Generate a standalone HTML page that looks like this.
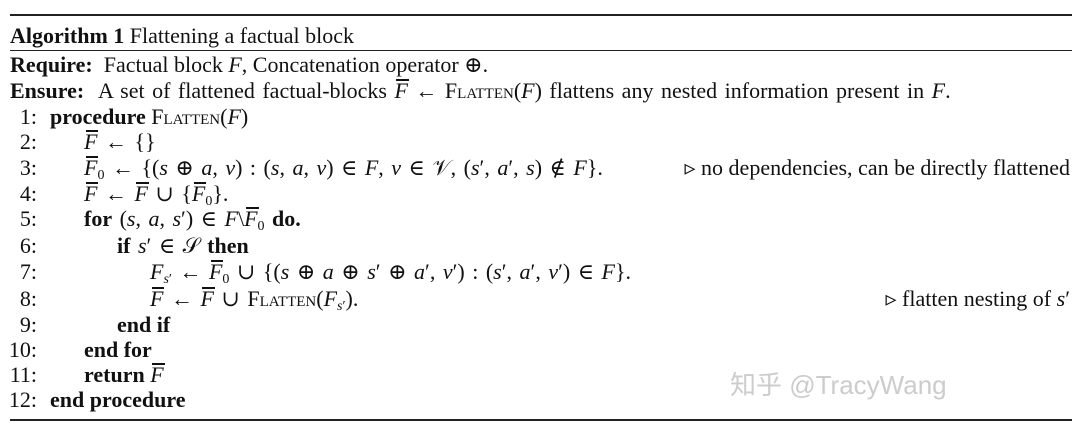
<!DOCTYPE html>
<html><head><meta charset="utf-8"><style>
body{margin:0;width:1080px;height:432px;background:#fff;position:relative;overflow:hidden;font-family:"Liberation Serif","DejaVu Serif",serif;font-size:22px;color:#111}
.r{position:absolute;left:10px;width:1062px;background:#222}
.l{position:absolute;line-height:22px;white-space:nowrap}
.n{position:absolute;line-height:22px;width:37px;text-align:right;left:0}
.c{position:absolute;right:10px;line-height:22px;white-space:nowrap}
i{font-style:italic}
.o{position:relative}
.o::before{content:"";position:absolute;left:2px;right:-1px;top:1px;height:1.5px;background:#111}
.sc{font-variant:small-caps}
.m{word-spacing:2px}
sub{font-size:14px;vertical-align:-4px;line-height:0}
</style></head><body>
<div class="r" style="top:14px;height:2px"></div>
<div class="r" style="top:50px;height:1px"></div>
<div class="r" style="top:419px;height:2px"></div>

<div class="l" style="left:10px;top:25px"><b>Algorithm 1</b> Flattening a factual block</div>
<div class="l" style="left:10px;top:54px"><b>Require:</b>&nbsp; Factual block <i>F</i>, Concatenation operator ⊕.</div>
<div class="l m" style="left:10px;top:80px"><b>Ensure:</b>&nbsp; A set of flattened factual-blocks <i class="o">F</i> ← <span class="sc">Flatten</span>(<i>F</i>) flattens any nested information present in <i>F</i>.</div>

<div class="n" style="top:106px">1:</div><div class="l" style="left:50px;top:106px"><b>procedure</b> <span class="sc">Flatten</span>(<i>F</i>)</div>
<div class="n" style="top:131px">2:</div><div class="l m" style="left:84px;top:131px"><i class="o">F</i> ← {}</div>
<div class="n" style="top:157px">3:</div><div class="l m" style="left:84px;top:157px"><i class="o">F</i><sub>0</sub> ← {(<i>s</i> ⊕ <i>a</i>, <i>v</i>) : (<i>s</i>, <i>a</i>, <i>v</i>) ∈ <i>F</i>, <i>v</i> ∈ 𝒱, (<i>s</i>′, <i>a</i>′, <i>s</i>) ∉ <i>F</i>}.</div>
<div class="c" style="top:157px">▹ no dependencies, can be directly flattened</div>
<div class="n" style="top:183px">4:</div><div class="l m" style="left:84px;top:183px"><i class="o">F</i> ← <i class="o">F</i> ∪ {<i class="o">F</i><sub>0</sub>}.</div>
<div class="n" style="top:208px">5:</div><div class="l m" style="left:84px;top:208px"><b>for</b> (<i>s</i>, <i>a</i>, <i>s</i>′) ∈ <i>F</i>\<i class="o">F</i><sub>0</sub> <b>do.</b></div>
<div class="n" style="top:235px">6:</div><div class="l m" style="left:117px;top:235px"><b>if</b> <i>s</i>′ ∈ 𝒮 <b>then</b></div>
<div class="n" style="top:261px">7:</div><div class="l m" style="left:150px;top:261px"><i>F</i><sub><i>s</i>′</sub> ← <i class="o">F</i><sub>0</sub> ∪ {(<i>s</i> ⊕ <i>a</i> ⊕ <i>s</i>′ ⊕ <i>a</i>′, <i>v</i>′) : (<i>s</i>′, <i>a</i>′, <i>v</i>′) ∈ <i>F</i>}.</div>
<div class="n" style="top:288px">8:</div><div class="l m" style="left:150px;top:288px"><i class="o">F</i> ← <i class="o">F</i> ∪ <span class="sc">Flatten</span>(<i>F</i><sub><i>s</i>′</sub>).</div>
<div class="c" style="top:288px">▹ flatten nesting of <i>s</i>′</div>
<div class="n" style="top:314px">9:</div><div class="l" style="left:117px;top:314px"><b>end if</b></div>
<div class="n" style="top:339px">10:</div><div class="l" style="left:84px;top:339px"><b>end for</b></div>
<div class="n" style="top:364px">11:</div><div class="l" style="left:84px;top:364px"><b>return</b> <i class="o">F</i></div>
<div class="n" style="top:389px">12:</div><div class="l" style="left:50px;top:389px"><b>end procedure</b></div>

<div class="l" style="left:730px;top:372px;font-family:'Liberation Sans','Noto Sans CJK SC',sans-serif;font-size:26px;line-height:26px;color:#ccc">知乎 @TracyWang</div>
</body></html>
